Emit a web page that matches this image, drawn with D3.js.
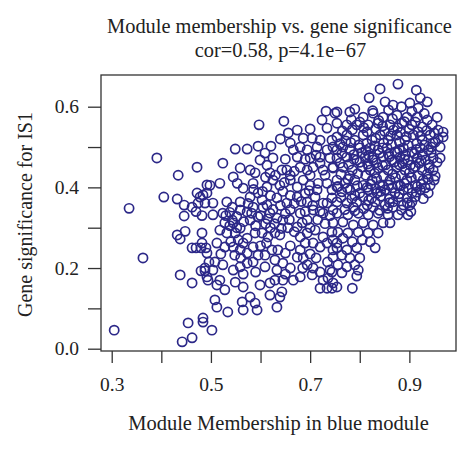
<!DOCTYPE html>
<html>
<head>
<meta charset="utf-8">
<script src="https://cdn.jsdelivr.net/npm/d3@7"></script>
<style>
  body { margin: 0; background: #fff; }
  svg text { font-family: "Liberation Serif", "DejaVu Serif", serif; fill: #222; }
</style>
</head>
<body>
<div id="chart"></div>
<script>
// chart text
var titleLines = ["Module membership vs. gene significance", "cor=0.58, p=4.1e\u221267"];
var xLabel = "Module Membership in blue module";
var yLabel = "Gene significance for IS1";

// axis ticks (labels only on some of them, like the R plot)
var xTicks = [0.3, 0.4, 0.5, 0.6, 0.7, 0.8, 0.9];
var xLabeled = [0.3, 0.5, 0.7, 0.9];
var yTicks = [0, 0.1, 0.2, 0.3, 0.4, 0.5, 0.6];
var yLabeled = [0, 0.2, 0.4, 0.6];

// [module membership, gene significance]
var pointsLeft = [
  [0.305,0.046],[0.335,0.348],[0.363,0.225],[0.391,0.473],[0.405,0.376],[0.432,0.371],[0.434,0.430],
  [0.446,0.356],[0.472,0.450],[0.472,0.386],[0.474,0.361],[0.484,0.381],[0.492,0.406],[0.462,0.351],
  [0.488,0.361],[0.446,0.329],[0.470,0.340],[0.482,0.330],[0.432,0.282],[0.448,0.291],[0.438,0.272],
  [0.482,0.287],[0.482,0.262],[0.492,0.237],[0.462,0.250],[0.470,0.250],[0.480,0.250],[0.490,0.250],
  [0.496,0.215],[0.488,0.200],[0.492,0.178],[0.438,0.183],[0.462,0.163],[0.480,0.193],[0.488,0.193],
  [0.494,0.170],[0.454,0.064],[0.484,0.076],[0.484,0.066],[0.502,0.046],[0.442,0.017],[0.462,0.027],
  [0.498,0.405],[0.518,0.410],[0.492,0.386],[0.478,0.376],[0.504,0.195],[0.508,0.121],[0.512,0.103],
  [0.512,0.158]
];

var pointsMiddle = [
  [0.504,0.361],[0.504,0.332],[0.524,0.336],[0.528,0.312],[0.543,0.319],[0.518,0.294],[0.532,0.287],
  [0.549,0.287],[0.559,0.299],[0.573,0.274],[0.589,0.287],[0.603,0.287],[0.615,0.277],[0.629,0.287],
  [0.639,0.282],[0.512,0.262],[0.528,0.252],[0.545,0.252],[0.559,0.245],[0.573,0.237],[0.585,0.252],
  [0.595,0.232],[0.609,0.232],[0.623,0.245],[0.635,0.245],[0.650,0.237],[0.508,0.215],[0.524,0.208],
  [0.545,0.195],[0.559,0.203],[0.573,0.212],[0.585,0.215],[0.629,0.220],[0.645,0.212],[0.633,0.195],
  [0.609,0.203],[0.680,0.245],[0.674,0.227],[0.686,0.225],[0.694,0.208],[0.706,0.200],[0.704,0.183],
  [0.720,0.190],[0.726,0.170],[0.736,0.175],[0.746,0.163],[0.720,0.150],[0.734,0.150],[0.680,0.178],
  [0.666,0.170],[0.645,0.170],[0.629,0.170],[0.619,0.163],[0.599,0.158],[0.579,0.128],[0.563,0.116],
  [0.565,0.096],[0.534,0.091],[0.593,0.096],[0.589,0.113],[0.619,0.133],[0.633,0.103],[0.639,0.128],
  [0.643,0.141],[0.549,0.165],[0.565,0.153],[0.528,0.146],[0.518,0.170],[0.706,0.262],[0.720,0.252],
  [0.734,0.262],[0.746,0.245],[0.694,0.287],[0.710,0.294],[0.726,0.277],[0.744,0.289],[0.754,0.262],
  [0.680,0.277],[0.674,0.302],[0.694,0.319],[0.680,0.336],[0.706,0.344],[0.726,0.336],[0.746,0.344],
  [0.734,0.361],[0.645,0.319],[0.633,0.324],[0.619,0.336],[0.605,0.351],[0.585,0.351],[0.573,0.339],
  [0.559,0.344],[0.543,0.351],[0.595,0.327],[0.579,0.319],[0.545,0.312],[0.565,0.262],
  [0.530,0.330],[0.538,0.305],[0.552,0.300],[0.555,0.270],[0.540,0.265],[0.560,0.225],[0.548,0.232],
  [0.520,0.235],[0.565,0.185],[0.590,0.190],[0.600,0.255],[0.612,0.262],[0.660,0.255],[0.668,0.290],
  [0.655,0.300],[0.690,0.262],[0.700,0.235],[0.712,0.225],[0.735,0.215],[0.740,0.195],[0.660,0.200],
  [0.650,0.185],[0.685,0.200],
  [0.597,0.555],[0.647,0.564],[0.656,0.535],[0.674,0.542],[0.732,0.589],[0.750,0.584],[0.724,0.567],
  [0.734,0.547],[0.754,0.559],[0.686,0.522],[0.704,0.522],[0.720,0.517],[0.744,0.517],[0.549,0.495],
  [0.573,0.495],[0.595,0.502],[0.621,0.502],[0.609,0.485],[0.625,0.473],[0.599,0.468],[0.666,0.493],
  [0.680,0.500],[0.694,0.493],[0.714,0.500],[0.734,0.493],[0.754,0.493],[0.674,0.475],[0.700,0.473],
  [0.720,0.475],[0.740,0.473],[0.524,0.460],[0.559,0.448],[0.545,0.426],[0.579,0.443],[0.589,0.436],
  [0.613,0.455],[0.619,0.436],[0.643,0.443],[0.653,0.443],[0.680,0.450],[0.694,0.443],[0.706,0.450],
  [0.726,0.443],[0.746,0.450],[0.553,0.410],[0.565,0.398],[0.585,0.410],[0.595,0.386],[0.613,0.401],
  [0.625,0.418],[0.639,0.405],[0.660,0.418],[0.674,0.401],[0.686,0.418],[0.700,0.405],[0.714,0.394],
  [0.734,0.410],[0.754,0.401],[0.532,0.364],[0.559,0.364],[0.579,0.376],[0.603,0.369],[0.613,0.356],
  [0.633,0.374],[0.653,0.361],[0.674,0.376],[0.694,0.364],[0.710,0.376],[0.726,0.361],[0.744,0.374],
  [0.660,0.345],[0.650,0.335],[0.668,0.360],[0.690,0.340],[0.715,0.320],[0.730,0.310],[0.640,0.355],
  [0.625,0.345],[0.610,0.310],[0.620,0.300],[0.590,0.305],[0.600,0.330],[0.575,0.360],[0.700,0.300],
  [0.720,0.340],[0.740,0.330],[0.660,0.380],[0.645,0.390],[0.690,0.385],[0.705,0.355],[0.630,0.430],
  [0.660,0.430],[0.700,0.430],[0.720,0.460],[0.690,0.470],[0.650,0.470],[0.660,0.510],[0.700,0.545],
  [0.640,0.520],[0.610,0.425],
  [0.538,0.338],[0.552,0.328],[0.566,0.315],[0.582,0.336],[0.614,0.322],[0.628,0.310],[0.642,0.298],
  [0.658,0.320],[0.684,0.312],[0.698,0.392],[0.716,0.410],[0.668,0.440],[0.648,0.412],[0.604,0.390],
  [0.620,0.380],[0.586,0.395],[0.712,0.480],[0.730,0.430],[0.682,0.365]
];

var pointsRight = [
  [0.877,0.656],[0.841,0.644],[0.914,0.641],[0.819,0.622],[0.851,0.612],[0.867,0.604],[0.901,0.609],
  [0.922,0.622],[0.936,0.612],[0.918,0.597],[0.754,0.587],[0.790,0.594],[0.780,0.587],[0.956,0.574],
  [0.807,0.574],[0.827,0.584],[0.847,0.574],[0.875,0.579],[0.895,0.574],[0.916,0.574],[0.936,0.567],
  [0.774,0.555],[0.794,0.555],[0.817,0.555],[0.837,0.559],[0.861,0.555],[0.885,0.559],[0.905,0.555],
  [0.926,0.550],[0.946,0.555],[0.958,0.542],[0.968,0.537],[0.968,0.525],[0.754,0.525],[0.774,0.530],
  [0.790,0.517],[0.807,0.530],[0.825,0.517],[0.841,0.530],[0.857,0.517],[0.875,0.530],[0.891,0.517],
  [0.908,0.530],[0.926,0.517],[0.942,0.530],[0.952,0.512],[0.746,0.500],[0.766,0.500],[0.780,0.493],
  [0.800,0.498],[0.821,0.498],[0.837,0.493],[0.855,0.498],[0.871,0.488],[0.888,0.498],[0.905,0.488],
  [0.922,0.498],[0.938,0.493],[0.962,0.500],[0.754,0.473],[0.774,0.475],[0.794,0.468],[0.811,0.475],
  [0.827,0.468],[0.847,0.475],[0.865,0.468],[0.881,0.475],[0.897,0.468],[0.916,0.473],[0.932,0.468],
  [0.948,0.473],[0.962,0.473],[0.746,0.448],[0.766,0.450],[0.785,0.443],[0.805,0.450],[0.821,0.443],
  [0.837,0.448],[0.857,0.443],[0.875,0.450],[0.891,0.443],[0.908,0.448],[0.926,0.443],[0.948,0.443],
  [0.754,0.418],[0.770,0.410],[0.790,0.418],[0.807,0.405],[0.825,0.418],[0.841,0.405],[0.861,0.418],
  [0.877,0.405],[0.895,0.418],[0.912,0.405],[0.928,0.418],[0.942,0.405],[0.950,0.418],[0.744,0.394],
  [0.764,0.389],[0.780,0.394],[0.800,0.386],[0.817,0.394],[0.835,0.386],[0.851,0.394],[0.871,0.386],
  [0.888,0.394],[0.905,0.386],[0.922,0.394],[0.938,0.386],[0.754,0.364],[0.774,0.361],[0.794,0.364],
  [0.815,0.356],[0.831,0.364],[0.851,0.356],[0.867,0.364],[0.888,0.356],[0.905,0.364],
  [0.787,0.351],[0.827,0.351],[0.867,0.351],[0.901,0.356],[0.754,0.336],[0.776,0.332],[0.797,0.336],
  [0.817,0.332],[0.837,0.336],[0.857,0.332],[0.877,0.332],[0.897,0.332],[0.746,0.312],[0.766,0.314],
  [0.787,0.307],[0.807,0.312],[0.827,0.307],[0.847,0.312],[0.861,0.312],[0.756,0.289],[0.776,0.287],
  [0.797,0.289],[0.817,0.287],[0.837,0.287],[0.746,0.270],[0.766,0.274],[0.785,0.265],[0.805,0.270],
  [0.821,0.265],[0.831,0.250],[0.754,0.250],[0.774,0.245],[0.794,0.250],[0.746,0.227],[0.764,0.232],
  [0.780,0.225],[0.800,0.225],[0.756,0.208],[0.774,0.203],[0.790,0.208],[0.797,0.195],[0.794,0.180],
  [0.764,0.188],[0.744,0.190],[0.754,0.153],[0.744,0.150],[0.785,0.150]
];

// extra points where the cloud is solid
var pointsCore = [
  [0.783,0.568],[0.800,0.562],[0.838,0.566],[0.866,0.570],[0.890,0.563],[0.905,0.589],[0.930,0.583],
  [0.765,0.540],[0.785,0.543],[0.815,0.538],[0.832,0.545],[0.850,0.539],[0.868,0.542],[0.882,0.536],
  [0.900,0.544],[0.918,0.538],[0.935,0.541],[0.950,0.535],
  [0.760,0.508],[0.782,0.511],[0.798,0.505],[0.814,0.509],[0.830,0.503],[0.848,0.510],[0.864,0.506],
  [0.880,0.512],[0.898,0.504],[0.915,0.509],[0.930,0.505],[0.948,0.511],[0.958,0.520],
  [0.764,0.484],[0.788,0.481],[0.804,0.486],[0.818,0.480],[0.840,0.485],[0.858,0.482],[0.876,0.487],
  [0.892,0.480],[0.910,0.484],[0.926,0.481],[0.944,0.486],
  [0.760,0.460],[0.778,0.457],[0.800,0.462],[0.816,0.458],[0.834,0.461],[0.852,0.456],[0.870,0.463],
  [0.886,0.459],[0.902,0.455],[0.920,0.460],[0.940,0.457],[0.956,0.462],
  [0.762,0.432],[0.780,0.429],[0.796,0.434],[0.812,0.430],[0.830,0.435],[0.848,0.428],[0.866,0.433],
  [0.884,0.430],[0.900,0.436],[0.918,0.429],[0.936,0.433],[0.952,0.428],
  [0.756,0.402],[0.775,0.398],[0.795,0.404],[0.815,0.400],[0.832,0.397],[0.846,0.403],[0.866,0.399],
  [0.882,0.404],[0.898,0.398],[0.916,0.402],[0.932,0.399],
  [0.762,0.375],[0.784,0.372],[0.806,0.377],[0.824,0.373],[0.842,0.378],[0.860,0.371],[0.878,0.376],
  [0.896,0.373],[0.912,0.377],[0.928,0.372],
  [0.770,0.345],[0.790,0.342],[0.808,0.347],[0.840,0.343],[0.856,0.348],[0.884,0.344],[0.903,0.340],
  [0.826,0.590],[0.858,0.592],[0.884,0.600],[0.808,0.548],[0.846,0.552],[0.876,0.548],[0.912,0.562],
  [0.832,0.522],[0.862,0.528],[0.894,0.526],[0.922,0.527],[0.812,0.492],[0.846,0.498],[0.880,0.494],
  [0.914,0.494],[0.944,0.500],[0.826,0.474],[0.860,0.476],[0.890,0.470],[0.924,0.466],[0.818,0.452],
  [0.846,0.454],[0.880,0.456],[0.912,0.452],[0.940,0.448],[0.834,0.422],[0.872,0.424],[0.904,0.424],
  [0.938,0.420],[0.822,0.408],[0.858,0.406],[0.890,0.410],[0.924,0.408],[0.842,0.390],[0.880,0.384],
  [0.914,0.388],[0.860,0.362],[0.896,0.362],[0.818,0.368],[0.790,0.380],[0.776,0.420],[0.788,0.470],
  [0.772,0.515]
];

var width = 474, height = 451;
var plot = { left: 101, right: 456, top: 75, bottom: 351 };
var pointColor = "#2c2888";
var inkColor = "#333";

var x = d3.scaleLinear().domain([0.2784, 0.994]).range([plot.left, plot.right]);
var y = d3.scaleLinear().domain([-0.0057, 0.6786]).range([plot.bottom, plot.top]);

var svg = d3.select("#chart")
            .append("svg")
            .attr("width", width)
            .attr("height", height);

// the points
var allPoints = pointsLeft.concat(pointsMiddle, pointsRight, pointsCore);
svg.append("g")
    .attr("class", "points")
    .selectAll("circle")
    .data(allPoints)
    .enter()
    .append("circle")
    .attr("cx", function(d) { return x(d[0]); })
    .attr("cy", function(d) { return y(d[1]); })
    .attr("r", 4.6)
    .attr("fill", "none")
    .attr("stroke", pointColor)
    .attr("stroke-width", 1.7);

// box around the plot region
svg.append("rect")
    .attr("x", plot.left)
    .attr("y", plot.top)
    .attr("width", plot.right - plot.left)
    .attr("height", plot.bottom - plot.top)
    .attr("fill", "none")
    .attr("stroke", inkColor)
    .attr("stroke-width", 1.3);

// x axis
var xAxis = d3.axisBottom(x)
    .tickValues(xTicks)
    .tickSize(12)
    .tickFormat(function(d) { return xLabeled.indexOf(d) >= 0 ? d3.format(".1f")(d) : ""; });

var gx = svg.append("g")
    .attr("transform", "translate(0," + plot.bottom + ")")
    .call(xAxis);
gx.select(".domain").remove();
gx.selectAll("line").attr("stroke", inkColor).attr("stroke-width", 1.3);
gx.selectAll("text")
    .attr("y", 40)
    .attr("dy", 0)
    .attr("fill", "#222")
    .style("font-size", "19.5px");

// y axis
var yAxis = d3.axisLeft(y)
    .tickValues(yTicks)
    .tickSize(13)
    .tickFormat(function(d) { return yLabeled.indexOf(d) >= 0 ? d3.format(".1f")(d) : ""; });

var gy = svg.append("g")
    .attr("transform", "translate(" + plot.left + ",0)")
    .call(yAxis);
gy.select(".domain").remove();
gy.selectAll("line").attr("stroke", inkColor).attr("stroke-width", 1.3);
gy.selectAll("text")
    .attr("x", -22)
    .attr("fill", "#222")
    .style("font-size", "19.5px");

// titles and axis labels
svg.append("text")
    .attr("x", 279.5)
    .attr("y", 33)
    .attr("text-anchor", "middle")
    .style("font-size", "20.4px")
    .text(titleLines[0]);

svg.append("text")
    .attr("x", 280.5)
    .attr("y", 57)
    .attr("text-anchor", "middle")
    .style("font-size", "20.4px")
    .text(titleLines[1]);

svg.append("text")
    .attr("x", 278.5)
    .attr("y", 430)
    .attr("text-anchor", "middle")
    .style("font-size", "20.5px")
    .text(xLabel);

svg.append("text")
    .attr("transform", "translate(32,214.5) rotate(-90)")
    .attr("text-anchor", "middle")
    .style("font-size", "20px")
    .text(yLabel);
</script>
</body>
</html>
